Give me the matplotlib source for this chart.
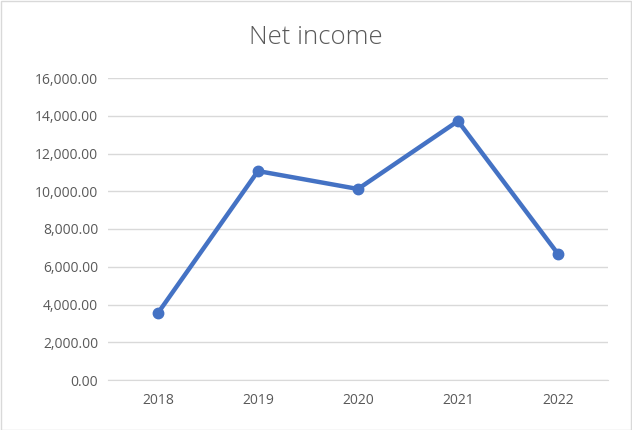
import matplotlib
matplotlib.use('Agg')
import matplotlib.pyplot as plt
from matplotlib.ticker import FuncFormatter, MultipleLocator

years = ['2018', '2019', '2020', '2021', '2022']
net_income = [3550, 11070, 10120, 13720, 6680]

plt.rcParams['font.family'] = ['Open Sans', 'DejaVu Sans']

fig = plt.figure(figsize=(6.32, 4.3), dpi=100)
ax = fig.add_axes([108/632, 50/430, 500/632, 302/430])

x = list(range(len(years)))
ax.plot(x, net_income, color='#4472C4', linewidth=3.2, marker='o', markersize=7.5,
        solid_capstyle='round', solid_joinstyle='round', zorder=3)

ax.set_xlim(-0.5, len(years) - 0.5)
ax.set_ylim(0, 16000)
ax.yaxis.set_major_locator(MultipleLocator(2000))
ax.yaxis.set_major_formatter(FuncFormatter(lambda v, p: f'{v:,.2f}'))
ax.set_xticks(x)
ax.set_xticklabels(years)

ax.grid(axis='y', color='#d9d9d9', linewidth=1)
ax.set_axisbelow(True)
for s in ['top', 'right', 'left']:
    ax.spines[s].set_visible(False)
ax.spines['bottom'].set_color('#d9d9d9')
ax.tick_params(axis='both', length=0, colors='#595959', labelsize=10)
ax.tick_params(axis='y', pad=7)
ax.tick_params(axis='x', pad=9)

fig.text(0.5, 1 - 37/430, 'Net income', ha='center', va='center', fontsize=18.5,
         fontweight='light', color='#595959')

fig.patches.append(plt.Rectangle((0.0008, 0.001), 0.998, 0.997, transform=fig.transFigure,
                                 fill=False, edgecolor='#d9d9d9', linewidth=1))

fig.savefig('out.png', dpi=100)
